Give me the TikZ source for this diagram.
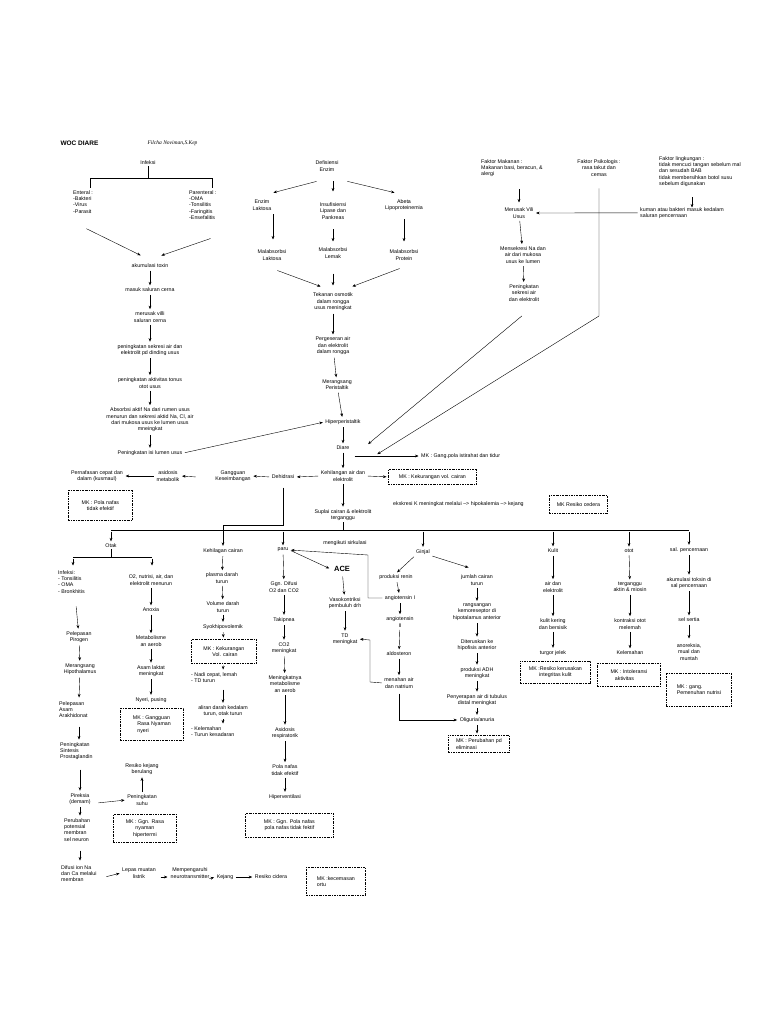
\documentclass[tikz,border=0pt]{standalone}
\usepackage{fontspec}
\setmainfont{Liberation Sans}
\newfontfamily\serifit{Liberation Serif}
\usetikzlibrary{arrows.meta}
\begin{document}
\begin{tikzpicture}[x=1pt,y=-1pt,
 t/.style={align=center,font=\fontsize{5.3}{6.4}\selectfont,inner sep=1pt},
 tl/.style={align=left,font=\fontsize{5.3}{6.4}\selectfont,inner sep=1pt},
 a/.style={-{Stealth[length=3.5pt,width=2.8pt]},shorten >=1.5pt,shorten <=1.5pt},
 mk/.style={draw,thick,dash pattern=on 2pt off 1pt on 0.6pt off 1pt,align=left,font=\fontsize{5.3}{6.4}\selectfont,inner sep=2pt,anchor=north west,minimum height=0pt}]
\useasboundingbox (0,0) rectangle (768,1024);
\fill[white] (0,0) rectangle (768,1024);
% header
\node[anchor=west,font=\bfseries\fontsize{6.5}{7}\selectfont] (title) at (57,143) {WOC DIARE};
\node[anchor=west,font=\serifit\itshape\fontsize{5.5}{6}\selectfont] (auth) at (144,143) {Filcha Noviman,S.Kep};
% left top
\node[t] (inf) at (148,163) {Infeksi};
\node[tl,anchor=north west] (ent) at (72,189) {Enteral :\\-Bakteri\\-Virus\\-Parasit};
\node[tl,anchor=north west] (par) at (188,189) {Parenteral :\\-OMA\\-Tonsilitis\\-Faringitis\\-Ensefalitis};
\draw[thick] (inf.south) -- (148,178);
\draw[thick] (90,188) -- (90,178) -- (212,178) -- (212,188);
\node[t] (tox) at (150,266) {akumulasi toxin};
\draw[a] (85,228) -- (142,256);
\draw[a] (212,238) -- (160,256);
\node[t] (mas) at (150,290) {masuk saluran cerna};
\node[t] (mer) at (150,317) {merusak villi\\saluran cerna};
\node[t] (pse) at (150,350) {peningkatan sekresi air dan\\elektrolit pd dinding usus};
\node[t] (pat) at (150,383) {peningkatan aktivitas tonus\\otot usus};
\node[t] (abs) at (150,420) {Absorbsi aktif Na dari rumen usus\\menurun dan sekresi aktid Na, Cl, air\\dari mukosa usus ke lumen usus\\mneingkat};
\node[t] (pil) at (150,453) {Peningkatan isi lumen usus};
\draw[a] (tox)--(mas); \draw[a] (mas)--(mer); \draw[a] (mer)--(pse); \draw[a] (pse)--(pat); \draw[a] (pat)--(abs); \draw[a] (abs)--(pil);
% middle top
\node[t] (def) at (327,166) {Defisiensi\\Enzim};
\node[t] (enl) at (262,205) {Enzim\\Laktosa};
\node[t] (ins) at (333,211) {Insufisiensi\\Lipase dan\\Pankreas};
\node[t] (abe) at (404,205) {Abeta\\Lipoproteinemia};
\draw[a] (318,181) -- (272,193);
\draw[a] (333,180) -- (333,193);
\draw[a] (346,181) -- (396,193);
\node[t] (mll) at (272,255) {Malabsorbsi\\Laktosa};
\node[t] (mle) at (333,253) {Malabsorbsi\\Lemak};
\node[t] (mlp) at (404,255) {Malabsorbsi\\Protein};
\draw[a] (273,213) -- (273,241);
\draw[a] (333,228) -- (333,243);
\draw[a] (404,218) -- (404,243);
\node[t] (tek) at (333,302) {Tekanan osmotik\\dalam rongga\\usus meningkat};
\draw[a] (276,270) -- (322,287);
\draw[a] (333,272) -- (333,287);
\draw[a] (401,268) -- (351,287);
\node[t] (per) at (333,346) {Pergeseran air\\dan elektrolit\\dalam rongga};
\node[t] (mpe) at (337,385) {Merangsang\\Peristaltik};
\node[t] (hip) at (343,422) {Hiperperistaltik};
\node[t] (dia) at (343,448) {Diare};
\node[t] (keh) at (343,476) {Kehilangan air dan\\elektrolit};
\node[t] (sup) at (343,515) {Suplai cairan \& elektrolit\\terganggu};
\draw[a] (tek)--(per); \draw[a] (per)--(mpe); \draw[a] (mpe)--(hip); \draw[a] (hip)--(dia); \draw[a] (dia)--(keh); \draw[a] (keh)--(sup);
\draw[a] (pil.east) -- (hip.west);
% right top
\node[tl,anchor=north west] (fm) at (480,158) {Faktor Makanan :\\Makanan basi, beracun, \&\\alergi};
\node[t] (fp) at (599,168) {Faktor Psikologis :\\rasa takut dan\\cemas};
\node[tl,anchor=north west] (fl) at (658,155) {Faktor lingkungan :\\tidak mencuci tangan sebelum mal\\dan sesudah BAB\\tidak membersihkan botol susu\\sebelum digunakan};
\node[tl,anchor=north west] (kum) at (639,206) {kuman atau bakteri masuk kedalam\\saluran pencernaan};
\draw[a] (692,196) -- (692,209);
\node[t] (mvu) at (519,213) {Merusak Vili\\Usus};
\draw[a] (519,188) -- (519,204);
\draw[a] (kum.west) -- (mvu.east);
\node[t] (mna) at (523,255) {Mensekresi Na dan\\air dari mukosa\\usus ke lumen};
\node[t] (psa) at (524,293) {Peningkatan\\sekresi air\\dan elektrolit};
\draw[a] (mvu)--(mna); \draw[a] (mna)--(psa);
\draw[a] (523,315) -- (367,445);
\draw[a] (599,187) -- (599,316) -- (376,455);
% MK row
\coordinate (mkg) at (420,456);
\draw[a] (353,456) -- (mkg);
\node[t,anchor=west] (mkgt) at (mkg) {MK : Gang.pola istirahat dan tidur};
\node[mk,minimum width=88pt,minimum height=15pt] (mkk) at (388,469) {MK : Kekurangan vol. cairan};
\draw[a] (keh.east) -- (mkk.west);
\node[t] (deh) at (283,477) {Dehidrasi};
\node[t] (gk) at (233,476) {Gangguan\\Keseimbangan};
\node[t] (asm) at (168,476) {asidosis\\metabolik};
\node[t] (pcd) at (97,476) {Pernafasan cepat dan\\dalam (kusmaul)};
\node[mk,minimum width=64pt,minimum height=30pt,align=center] (mkp) at (68,490) {MK : Pola nafas\\tidak efektif};
\draw[a] (keh.west) -- (deh.east);
\draw[a] (deh.west) -- (gk.east);
\draw[a] (197,477) -- (asm.east);
\draw[a] (asm.west) -- (pcd.east);
\node[t,anchor=west] (eks) at (392,504) {ekskresi K meningkat melalui --> hipokalemia --> kejang};
\node[mk,minimum width=58pt,minimum height=18pt] (mkr) at (549,495) {MK Resiko cedera};
% bus
\draw[thick] (343,522) -- (343,530);
\draw[thick] (111,530) -- (689,530);
\node[t] (otak) at (111,546) {Otak};
\node[t] (kc) at (223,551) {Kehilagan cairan};
\node[t] (paru) at (283,550) {paru};
\node[t] (gin) at (423,552) {Ginjal};
\node[t] (kul) at (553,551) {Kulit};
\node[t] (oto) at (629,551) {otot};
\node[t] (sal) at (689,550) {sal. pencernaan};
\draw[a] (111,530) -- (otak.north);
\draw[a] (283,486) -- (283,525) -- (223,525) -- (kc.north);
\draw[a] (283,530) -- (paru.north);
\draw[a] (423,530) -- (gin.north);
\draw[a] (553,530) -- (kul.north);
\draw[a] (629,530) -- (oto.north);
\draw[a] (689,530) -- (sal.north);
\node[t] (msi) at (345,543) {mengikuti sirkulasi};
% otak branch
\draw (otak.south) -- (111,557);
\draw[a] (73,557) -- (73,567);
\draw[a] (152,557) -- (152,567);
\draw (73,557) -- (152,557);
\node[tl,anchor=north west] (ifk) at (57,569) {Infeksi:\\ - Tonsilitis\\- OMA\\- Bronkhitis};
\node[t] (o2) at (151,580) {O2, nutrisi, air, dan\\elektrolit menurun};
\node[t] (ano) at (151,610) {Anoxia};
\node[t] (mae) at (151,641) {Metabolisme\\an aerob};
\node[t] (alm) at (151,671) {Asam laktat\\meningkat};
\node[t] (nyp) at (151,700) {Nyeri, pusing};
\node[mk,minimum width=63pt,minimum height=32pt] (mkn) at (120,708) {MK : Gangguan\\\ \ \ Rasa Nyaman\\\ \ \ nyeri};
\draw[a] (o2)--(ano); \draw[a] (ano)--(mae); \draw[a] (mae)--(alm); \draw[a] (alm)--(nyp);
\node[t] (pp) at (79,637) {Pelepasan\\Pirogen};
\node[t] (mh) at (80,669) {Merangsang\\Hipothalamus};
\node[tl,anchor=north west] (paa) at (58,700) {Pelepasan\\Asam\\Arakhidonat};
\node[tl,anchor=north west] (psp) at (59,741) {Peningkatan\\Sintesis\\Prostaglandin};
\draw[a] (76,605) -- (pp); \draw[a] (pp)--(mh); \draw[a] (mh)--(79,699); \draw[a] (79,725) -- (psp.north -| 79,0);
\node[t] (pir) at (80,799) {Pireksia\\(demam)};
\draw[a] (80,768) -- (pir);
\node[t] (psu) at (142,800) {Peningkatan\\suhu};
\node[t] (rkb) at (142,769) {Resiko kejang\\berulang};
\draw[a] (97,803) -- (psu.west);
\draw[a] (psu) -- (rkb);
\node[mk,minimum width=63pt,minimum height=28pt,align=center] (mks) at (113,814) {MK : Ggn. Rasa\\nyaman\\hipertermi};
\node[tl,anchor=north west] (pot) at (63,817) {Perubahan\\potensial\\membran\\sel neuron};
\draw[a] (pir)--(80,817);
\node[tl,anchor=north west] (dif) at (60,864) {Difusi ion Na\\dan Ca melalui\\membran};
\draw[a] (80,849)--(80,862);
\node[t] (lml) at (139,873) {Lepas muatan\\listrik};
\node[t] (mnt) at (190,873) {Mempengaruhi\\neurotransmitter};
\node[t] (kej) at (225,877) {Kejang};
\node[t] (rcd) at (271,877) {Resiko cidera};
\node[mk,minimum width=59pt,minimum height=28pt] (mko) at (306,867) {MK :kecemasan\\ortu};
\draw[a] (105,877) -- (lml.west);
\draw[a] (159,877) -- (169,877);
\draw[a] (208,879) -- (kej.west);
\draw[a] (kej.east) -- (rcd.west);
% kehilangan cairan branch
\node[t] (pdt) at (222,578) {plasma darah\\turun};
\node[t] (vdt) at (223,607) {Volume darah\\turun};
\node[t] (syk) at (223,627) {Syokhipovolemik};
\node[mk,minimum width=65pt,minimum height=24pt] (mkv) at (191,639) {MK : Kekurangan\\\ \ \ \ \ \ Vol. cairan};
\node[tl,anchor=north west] (nct) at (190,671) {- Nadi cepat, lemah\\- TD turun};
\node[t] (adk) at (223,711) {aliran darah kedalam\\turun, otak turun};
\node[tl,anchor=north west] (kel) at (190,725) {- Kelemahan\\- Turun kesadaran};
\draw[a] (kc)--(pdt); \draw[a] (pdt)--(vdt); \draw[a] (vdt)--(syk); \draw[a] (syk)--(mkv); \draw[a] (mkv)--(223,671); \draw[a] (223,688)--(adk); \draw[a] (adk)--(223,725);
% paru branch
\node[t] (gdo) at (284,587) {Ggn. Difusi\\O2 dan CO2};
\node[t] (tak) at (284,620) {Takipnea};
\node[t] (co2) at (284,648) {CO2\\meningkat};
\node[t] (mma) at (285,684) {Meningkatnya\\metabolisme\\an aerob};
\node[t] (asr) at (285,733) {Asidosis\\respiratorik};
\node[t] (pnt) at (285,770) {Pola nafas\\tidak efektif};
\node[t] (hpv) at (285,797) {Hiperventilasi};
\node[mk,minimum width=88pt,minimum height=24pt,align=center] (mkpn) at (245,813) {MK : Ggn. Pola nafas\\pola nafas tidak fektif};
\draw[a] (paru)--(gdo); \draw[a] (gdo)--(tak); \draw[a] (tak)--(co2); \draw[a] (co2)--(mma); \draw[a] (mma)--(asr); \draw[a] (asr)--(pnt); \draw[a] (pnt)--(hpv);
\node[font=\bfseries\fontsize{7.5}{8}\selectfont] (ace) at (342,569) {ACE};
\draw[a] (paru.east) -- (ace.west);
\node[t] (vas) at (345,603) {Vasokontriksi\\pembuluh drh};
\node[t] (tdm) at (345,639) {TD\\meningkat};
\draw[a] (ace)--(vas); \draw[a] (vas)--(tdm);
% ginjal branch
\node[t] (pre) at (396,577) {produksi renin};
\node[t] (an1) at (400,598) {angiotensin  I};
\node[t] (an2) at (400,622) {angiotensin\\II};
\node[t] (ald) at (399,654) {aldosteron};
\node[t] (mat) at (399,683) {menahan air\\dan natrium};
\draw[a] (gin.south west) -- (pre.north);
\draw[a] (gin.south east) -- (470,568);
\draw[a] (pre)--(an1); \draw[a] (an1)--(an2); \draw[a] (an2)--(ald); \draw[a] (ald)--(mat);
\draw[a] (an1.west) -- (368,598) -- (368,555) -- (paru.east);
\draw[a] (mat.west) -- (370,682) -- (370,640) -- (tdm.east);
\node[t] (jct) at (477,580) {jumlah cairan\\turun};
\node[t] (rkh) at (477,612) {rangsangan\\kemoreseptor di\\hipotalamus anterior};
\node[t] (dha) at (477,645) {Diteruskan ke\\hipofisis anterior};
\node[t] (adh) at (477,673) {produksi ADH\\meningkat};
\node[t] (pat2) at (477,700) {Penyerapan air di tubulus\\distal meningkat};
\node[t] (oli) at (477,720) {Oliguria/anuria};
\node[mk,minimum width=61pt,minimum height=17pt] (mke) at (448,735) {MK : Perubahan pd\\eliminasi};
\draw[a] (jct)--(rkh); \draw[a] (rkh)--(dha); \draw[a] (dha)--(adh); \draw[a] (adh)--(pat2); \draw[a] (pat2)--(oli); \draw[a] (oli)--(477,735);
\draw[a] (399,692) -- (399,720) -- (oli.west);
% kulit
\node[t] (ade) at (553,587) {air dan\\elektrolit};
\node[t] (kkb) at (553,624) {kulit kering\\dan bersisik};
\node[t] (tjl) at (553,653) {turgor jelek};
\node[mk,minimum width=70pt,minimum height=22pt,align=center] (mkkl) at (520,661) {MK :Resiko kerusakan\\integritas kulit};
\draw[a] (kul)--(ade); \draw[a] (ade)--(kkb); \draw[a] (kkb)--(tjl);
% otot
\node[t] (tam) at (630,587) {terganggu\\aktin \& miosin};
\node[t] (kom) at (630,624) {kontraksi otot\\melemah};
\node[t] (klm) at (630,653) {Kelemahan};
\node[mk,minimum width=63pt,minimum height=23pt] (mkia) at (597,663) {MK : Intoleransi\\\ \ \ aktivitas};
\draw[a] (oto)--(tam); \draw[a] (tam)--(kom); \draw[a] (kom)--(klm);
% sal pencernaan
\node[t] (aks) at (689,583) {akumulasi toksin di\\sal pencernaan};
\node[t] (ssr) at (689,620) {sel sertia};
\node[t] (amm) at (689,652) {anoreksia,\\mual dan\\muntah};
\node[mk,minimum width=65pt,minimum height=33pt] (mknu) at (666,673) {MK : gang.\\Pemenuhan nutrisi};
\draw[a] (sal)--(aks); \draw[a] (aks)--(ssr); \draw[a] (ssr)--(689,640);
\end{tikzpicture}
\end{document}
